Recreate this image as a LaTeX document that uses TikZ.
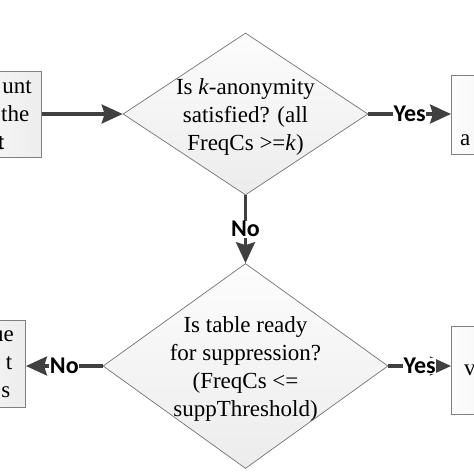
\documentclass[tikz,border=0pt]{standalone}
\usepackage{fontspec}
\setmainfont{Liberation Serif}
\newfontfamily\lblfont{Carlito}
\usetikzlibrary{shapes.geometric,arrows.meta}
\begin{document}
\begin{tikzpicture}[x=1pt,y=-1pt,
  dia/.style={diamond, draw=black!55, line width=0.7pt, top color=gray!2, bottom color=gray!15, inner sep=0pt},
  box/.style={rectangle, draw=black!50, line width=0.9pt, left color=gray!2, right color=gray!14, inner sep=0pt},
  txt/.style={font=\fontsize{23}{27.7}\selectfont, align=center, inner sep=0pt},
  frag/.style={font=\fontsize{23}{27.7}\selectfont, inner sep=0pt},
  lbl/.style={font=\lblfont\bfseries\fontsize{24}{26}\selectfont, fill=white, inner sep=0.5pt},
  arr/.style={draw=black!75, line width=3.2pt, -{Stealth[length=21pt,width=19pt,inset=3pt]}}]
\useasboundingbox (0,0) rectangle (474,474);
\clip (0,0) rectangle (474,474);
% diamonds
\node[dia, minimum width=245pt, minimum height=162pt] (d1) at (245.5,114) {};
\node[txt] (t1) at (245.5,117) {Is \textit{k}-anonymity\\ satisfied? (all\\ FreqCs >=\textit{k})};
\node[dia, minimum width=285pt, minimum height=205pt] (d2) at (245.5,366) {};
\node[txt] (t2) at (245.5,369) {Is table ready\\ for suppression?\\ (FreqCs <=\\ suppThreshold)};
% boxes (mostly outside the picture)
\node[box, anchor=east, minimum width=100pt, minimum height=86pt] (b1) at (42,114) {};
\node[box, anchor=west, minimum width=100pt, minimum height=79pt] (b2) at (451,114.5) {};
\node[box, anchor=east, minimum width=100pt, minimum height=87pt] (b3) at (26,363.5) {};
\node[box, anchor=west, minimum width=100pt, minimum height=88pt] (b4) at (451,370) {};
% visible fragments of box texts
\node[frag, anchor=base east] (f1) at (32,93) {unt};
\node[frag, anchor=base east] (f2) at (29.5,121) {the};
\node[frag, anchor=base east] (f3) at (4.5,149) {\textbf{t}};
\node[frag, anchor=base west] (f4) at (460,145) {a};
\node[frag, anchor=base east] (f5) at (14,341.5) {ue};
\node[frag, anchor=base east] (f6) at (12.5,369) {t};
\node[frag, anchor=base east] (f7) at (10.5,397) {s};
\node[frag, anchor=base west] (f8) at (464,375) {v};
% connectors
\draw[arr] (b1.east) -- (d1.west);
\draw[arr] (d1.east) -- node[lbl] (y1) {Yes} (d1.east -| b2.west);
\draw[arr] (d1.south) -- node[lbl] (n1) {No} (d2.north);
\draw[arr] (d2.west) -- node[lbl] (n2) {No} (d2.west -| b3.east);
\draw[arr] (d2.east) -- node[lbl] (y2) {Yes} (d2.east -| b4.west);
\end{tikzpicture}
\end{document}
